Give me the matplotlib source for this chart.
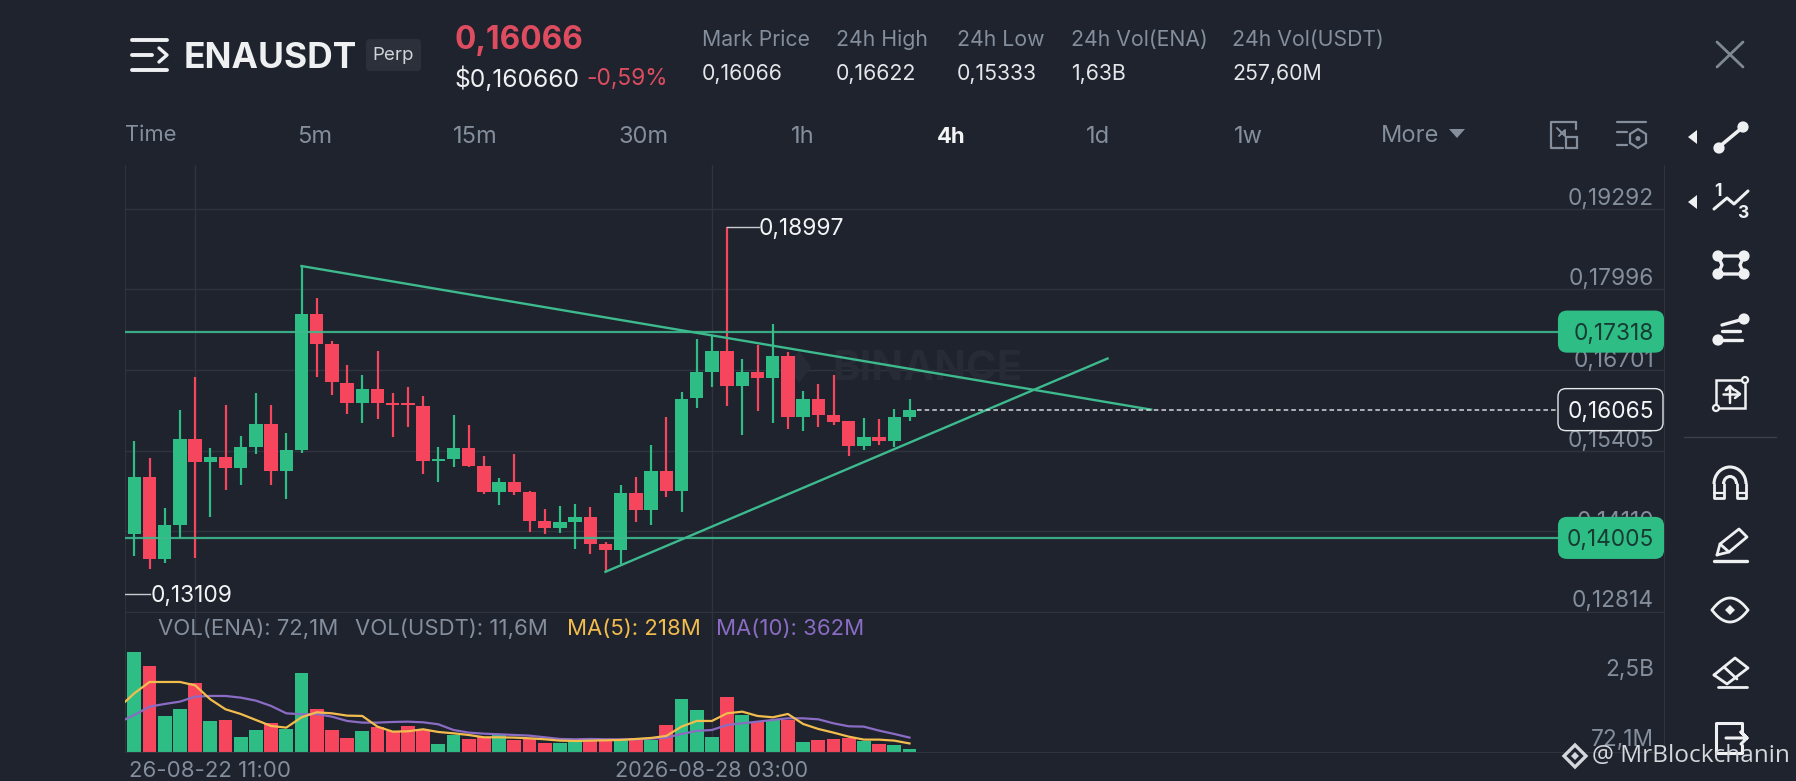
import numpy as np
import matplotlib
matplotlib.use("Agg")
import matplotlib.pyplot as plt
from matplotlib.patches import FancyBboxPatch, Polygon, Rectangle, Circle, Arc

W = 1796
H = 781

opens = [.14061,.14982,.13670,.14216,.15598,.15223,.15303,.15126,.15458,.15833,.15083,.15421,.17606,
         .17113,.16497,.16165,.16401,.16165,.16165,.16128,.15239,.15266,.15448,.15153,.14741,.14907,
         .14746,.14270,.14162,.14264,.14339,.13911,.13804,.14725,.14446,.15078,.14757,.16245,.16674,
         .17006,.16438,.16663,.16577,.16926,.15940,.16235,.15972,.15881,.15485,.15630,.15560,.15951]
highs = [.15565,.15287,.14478,.16063,.16583,.15448,.16144,.15640,.16326,.16144,.15689,.18371,.17852,
         .17172,.16776,.16615,.17006,.16326,.16433,.16283,.15469,.15972,.15817,.15319,.14960,.15346,
         .14762,.14462,.14516,.14543,.14500,.13943,.14853,.14976,.15491,.15940,.16347,.17193,.17247,
         .18997,.16872,.17102,.17440,.16985,.16358,.16470,.16615,.15881,.15935,.15913,.16074,.16240]
lows = [.13713,.13498,.13606,.13996,.13680,.14344,.14773,.14853,.15351,.14848,.14634,.15362,.16588,
        .16299,.15994,.15844,.15908,.15630,.15790,.15030,.14907,.15142,.15148,.14709,.14532,.14698,
        .14093,.14066,.14077,.13820,.13750,.13461,.13584,.14254,.14216,.14655,.14419,.16096,.16433,
        .16128,.15651,.16047,.15844,.15747,.15715,.15790,.15812,.15324,.15421,.15491,.15469,.15876]
closes = [.14982,.13670,.14211,.15598,.15223,.15303,.15126,.15458,.15833,.15083,.15415,.17606,.17124,
          .16503,.16165,.16401,.16165,.16133,.16133,.15244,.15271,.15448,.15153,.14741,.14907,.14741,
          .14275,.14162,.14259,.14339,.13911,.13804,.14725,.14446,.15078,.14757,.16235,.16663,.17001,
          .16438,.16663,.16577,.16920,.15940,.16235,.15978,.15871,.15485,.15630,.15560,.15946,.16065]
volumes = [2460,2132,902,1074,1697,763,787,369,541,713,566,1943,1058,549,353,525,615,533,640,541,213,426,
           328,369,451,312,344,221,221,303,279,287,312,344,312,672,1304,1033,377,1353,918,754,795,795,246,
           303,320,353,287,213,189,72]
# first point sits one candle left of the visible window
ma5 = [1107,1451,1730,1730,1730,1648,1304,1058,943,795,648,607,861,984,959,902,894,631,508,517,566,500,467,
       426,369,369,361,344,320,287,279,287,295,303,328,353,402,631,771,771,959,1000,894,861,943,697,574,484,
       385,312,312,287,218]
ma10 = [738,918,1123,1189,1246,1369,1386,1386,1345,1271,1140,959,935,943,877,771,730,730,746,754,738,689,549,
        484,459,443,426,410,369,328,320,328,320,320,320,336,361,451,525,549,672,713,754,795,836,836,812,713,
        640,631,533,451,362]

price_ticks = [0.19292, 0.17996, 0.16701, 0.15405, 0.14110, 0.12814]
price_labels = ["0,19292", "0,17996", "0,16701", "0,15405", "0,14110", "0,12814"]
levels = [0.17318, 0.14005]
level_labels = ["0,17318", "0,14005"]
last_price = 0.16065
high_mark = 0.18997
low_mark = 0.13109
date_ticks = [4, 38]

tabs = ["5m", "15m", "30m", "1h", "4h", "1d", "1w"]
tab_x = [315, 475, 644, 803, 951, 1098, 1248]
stat_names = ["Mark Price", "24h High", "24h Low", "24h Vol(ENA)", "24h Vol(USDT)"]
stat_values = ["0,16066", "0,16622", "0,15333", "1,63B", "257,60M"]
stat_x = [702, 836, 957, 1071, 1232]

BG = "#1e232d"
GRID = "#2e333d"
GREEN = "#2ebd85"
RED = "#f6465d"
LINE = "#3dba8e"
GRAY = "#848e9c"
ICON = "#eef0f2"
MARK = "#262b36"

LEFT = 125.3
RIGHT = 1664.3
TOP = 165
MID = 612.3
BOTTOM = 752.3
BOX_X = 1558
PRICE_PER_PX = 0.0001606


def x_idx(px):
    return (px - 134.3) / 15.2


def y_price(px):
    return 0.19292 - (px - 208.7) * PRICE_PER_PX


def y_px(price):
    return 208.7 + (0.19292 - price) / PRICE_PER_PX


def make_axes(fig, top, bottom):
    ax = fig.add_axes([LEFT / W, 1 - bottom / H, (RIGHT - LEFT) / W, (bottom - top) / H])
    ax.set_facecolor("none")
    ax.set_xlim(x_idx(LEFT), x_idx(RIGHT))
    ax.set_xticks(date_ticks)
    ax.tick_params(length=0, labelbottom=False, labelleft=False)
    ax.grid(True, color=GRID, lw=1)
    ax.set_axisbelow(True)
    for s in ax.spines.values():
        s.set_color(GRID)
    return ax


def draw_price(ax):
    ax.spines["top"].set_visible(False)
    ax.set_ylim(y_price(MID), y_price(TOP))
    ax.set_yticks(price_ticks)
    x = np.arange(len(opens))
    o = np.array(opens)
    c = np.array(closes)
    colors = [GREEN if closes[i] > opens[i] else RED for i in x]

    # faint exchange mark, sits under the candles
    ax.text(x_idx(832), y_price(369), "BINANCE", color=MARK, fontsize=30, weight="bold", va="center", zorder=1)
    ax.add_patch(Polygon([[x_idx(799), y_price(351)], [x_idx(811), y_price(367)],
                          [x_idx(799), y_price(383)], [x_idx(787), y_price(367)]], fc=MARK, zorder=1))

    ax.vlines(x, lows, highs, colors=colors, lw=1.6, zorder=3)
    ax.bar(x, np.abs(c - o), bottom=np.minimum(o, c), width=0.87, color=colors, zorder=3)

    # trend lines
    ax.plot([11, 66.9], [highs[11], last_price], color=LINE, lw=1.7, zorder=4)
    ax.plot([31, 64.03], [lows[31], 0.16886], color=LINE, lw=1.7, zorder=4)
    for lv in levels:
        ax.hlines(lv, x_idx(LEFT), x_idx(BOX_X), color=LINE, lw=1.6, zorder=4, alpha=0.9)
    ax.hlines(last_price, 51.5, x_idx(BOX_X), color="#d5d8dc", lw=1.1, linestyle=(0, (3, 2)), zorder=4)

    # high and low markers
    ax.plot([39, 39, x_idx(759)], [highs[39], high_mark, high_mark], color="#c8ccd2", lw=1, zorder=4)
    ax.plot([x_idx(LEFT), x_idx(150)], [low_mark, low_mark], color="#c8ccd2", lw=1, zorder=4)
    nudge = 2 * PRICE_PER_PX
    ax.text(x_idx(759), high_mark - nudge, "0,18997", color="#f2f3f5", fontsize=16.4, va="center", zorder=5)
    ax.text(x_idx(151), low_mark - nudge, "0,13109", color="#f2f3f5", fontsize=16.4, va="center", zorder=5)


def draw_volume(ax):
    ax.set_ylim(0, 420 * 8.2)
    ax.set_yticks([])
    x = np.arange(len(volumes))
    colors = [GREEN if closes[i] > opens[i] else RED for i in x]
    ax.bar(x, volumes, width=0.9, color=colors, zorder=2)
    ax.plot(np.arange(-1, len(ma10) - 1), ma10, color="#8a6cc4", lw=1.6, zorder=3)
    ax.plot(np.arange(-1, len(ma5) - 1), ma5, color="#f3bd4e", lw=1.6, zorder=4)


def seg(ov, xs, ys, lw=2.4, color=ICON):
    ov.plot(xs, ys, color=color, lw=lw, solid_capstyle="round", solid_joinstyle="round")


def dot(ov, x, y, r=4.5, fill=True):
    ov.add_patch(Circle((x, y), r, fc=ICON if fill else BG, ec=ICON, lw=1.6, zorder=6))


def draw_toolbar(ov):
    for y in [137, 202]:
        ov.add_patch(Polygon([[1688, y], [1697, y - 7], [1697, y + 7]], fc=ICON))
    seg(ov, [1719, 1743], [147, 127], lw=2.6)
    dot(ov, 1719, 148)
    dot(ov, 1743, 127)

    seg(ov, [1714, 1727, 1734, 1748], [209, 198, 204, 191], lw=2.2)
    ov.text(1718, 191, "1", color=ICON, fontsize=12.5, weight="bold", ha="center", va="center")
    ov.text(1743, 213, "3", color=ICON, fontsize=12.5, weight="bold", ha="center", va="center")

    seg(ov, [1718, 1744, 1740, 1744, 1718, 1722, 1718], [256, 256, 265, 274, 274, 265, 256])
    for cx in [1718, 1744]:
        for cy in [256, 274]:
            dot(ov, cx, cy)

    seg(ov, [1722, 1740], [325, 320])
    seg(ov, [1722, 1740], [331, 331])
    seg(ov, [1720, 1742], [340, 340])
    dot(ov, 1744, 319)
    dot(ov, 1718, 340)

    ov.add_patch(Rectangle((1716, 380), 29, 28, fc="none", ec=ICON, lw=1.8))
    dot(ov, 1745, 380, 3, False)
    dot(ov, 1716, 408, 3, False)
    seg(ov, [1723, 1739], [394, 394], lw=1.8)
    seg(ov, [1730, 1730, 1726, 1730, 1734], [403, 386, 390, 386, 390], lw=1.8)
    seg(ov, [1735, 1740, 1735], [390, 394, 398], lw=1.8)

    ov.plot([1684, 1776], [437, 437], color="#3a3f49", lw=1)

    ov.add_patch(Arc((1730, 484), 32, 34, theta1=180, theta2=360, ec=ICON, lw=2.2))
    ov.add_patch(Arc((1730, 484), 13, 15, theta1=180, theta2=360, ec=ICON, lw=2.2))
    seg(ov, [1714, 1714, 1723.5, 1723.5], [484, 498, 498, 484], lw=2)
    seg(ov, [1746, 1746, 1736.5, 1736.5], [484, 498, 498, 484], lw=2)
    seg(ov, [1714, 1723], [493, 493], lw=1.6)
    seg(ov, [1737, 1746], [493, 493], lw=1.6)

    seg(ov, [1714, 1747], [561, 561])
    seg(ov, [1717, 1720, 1739, 1747, 1729, 1717], [555, 544, 529, 537, 552, 555], lw=2)
    seg(ov, [1720, 1729], [544, 552], lw=2)

    # eye outline comes to a point at both ends
    t = np.linspace(-1, 1, 30)
    lx = 1730 + 18 * t
    seg(ov, lx, 610 - 12 * (1 - t ** 2), lw=2)
    seg(ov, lx, 610 + 12 * (1 - t ** 2), lw=2)
    ov.add_patch(Polygon([[1730, 605], [1735, 610], [1730, 615], [1725, 610]], fc=ICON))

    seg(ov, [1714, 1735, 1748, 1727, 1714], [675, 658, 668, 684, 675], lw=2)
    seg(ov, [1724, 1737], [667, 679], lw=2)
    seg(ov, [1718, 1747], [687, 687], lw=2)

    seg(ov, [1742, 1742, 1716, 1716, 1742, 1742], [731, 723, 723, 753, 753, 745], lw=2.2)
    seg(ov, [1726, 1747, 1741, 1747, 1741], [738, 738, 732, 738, 744], lw=2.2)


def draw_header(ov):
    seg(ov, [132, 167], [40, 40], lw=2.8)
    seg(ov, [132, 152], [55, 55], lw=2.8)
    seg(ov, [132, 167], [70, 70], lw=2.8)
    seg(ov, [159, 167, 159], [48, 55, 62], lw=2.4)
    ov.text(184, 58, "ENAUSDT", color="#eef0f2", fontsize=25.5, weight="bold", va="center")
    ov.add_patch(FancyBboxPatch((366, 39), 55, 32, boxstyle="round,pad=0,rounding_size=4", fc="#2b303a", ec="none"))
    ov.text(393, 56, "Perp", color="#d0d3d8", fontsize=13.5, ha="center", va="center")
    ov.text(454, 41, "0,16066", color="#de4c60", fontsize=22.8, weight="bold", va="center")
    ov.text(454, 79, "$0,160660", color="#eef0f2", fontsize=17.7, va="center")
    ov.text(586, 79, "-0,59%", color="#de4c60", fontsize=16.4, va="center")
    for name, val, x in zip(stat_names, stat_values, stat_x):
        ov.text(x, 40, name, color=GRAY, fontsize=15.3, va="center")
        ov.text(x, 74, val, color="#e4e6e9", fontsize=15.3, va="center")
    seg(ov, [1717, 1743], [42, 67], lw=2, color="#7f8893")
    seg(ov, [1717, 1743], [67, 42], lw=2, color="#7f8893")

    ov.text(125, 135, "Time", color=GRAY, fontsize=15.8, va="center")
    for t, x in zip(tabs, tab_x):
        on = t == "4h"
        ov.text(x, 137, t, color="#f2f3f5" if on else GRAY, fontsize=15.8 if on else 17, ha="center", va="center",
                weight="bold" if on else "normal")
    ov.text(1410, 136, "More", color=GRAY, fontsize=17, ha="center", va="center")
    ov.add_patch(Polygon([[1449, 129], [1465, 129], [1457, 138]], fc=GRAY))

    # screen and settings icons next to the tabs
    seg(ov, [1576, 1576], [129, 122], lw=1.6, color=GRAY)
    seg(ov, [1576, 1551, 1551, 1563], [122, 122, 148, 148], lw=1.6, color=GRAY)
    ov.add_patch(Rectangle((1566, 137), 11, 11, fc="none", ec=GRAY, lw=1.6))
    seg(ov, [1557, 1565, 1565, 1559], [128, 136, 130, 136], lw=1.4, color=GRAY)
    seg(ov, [1617, 1646], [122, 122], lw=1.6, color=GRAY)
    seg(ov, [1617, 1627], [132, 132], lw=1.6, color=GRAY)
    seg(ov, [1617, 1627], [145, 145], lw=1.6, color=GRAY)
    ov.add_patch(Polygon([[1638, 129], [1646, 134], [1646, 143], [1638, 148], [1630, 143], [1630, 134]],
                         fc="none", ec=GRAY, lw=1.6))
    ov.add_patch(Circle((1638, 138.5), 2.5, fc=GRAY))


def draw_labels(ov):
    label_y = [199, 279, 361, 441, 522, 601]
    for lab, y in zip(price_labels, label_y):
        ov.text(1654, y, lab, color=GRAY, fontsize=16.3, ha="right", va="center")
    ov.text(1654, 670, "2,5B", color=GRAY, fontsize=16.3, ha="right", va="center")
    ov.text(1654, 740, "72,1M", color=GRAY, fontsize=16.3, ha="right", va="center")

    for lv, lab in zip(levels, level_labels):
        cy = y_px(lv)
        ov.add_patch(FancyBboxPatch((BOX_X + 1, cy - 20), 104, 40, boxstyle="round,pad=0,rounding_size=8",
                                    fc=GREEN, ec=GREEN, lw=1.5, zorder=5))
        ov.text(1654, cy + 2, lab, color="#173b33", fontsize=16.3, ha="right", va="center", zorder=6)
    cy = y_px(last_price)
    ov.add_patch(FancyBboxPatch((BOX_X, cy - 21), 105, 42, boxstyle="round,pad=0,rounding_size=8",
                                fc=BG, ec="#e4e6e9", lw=1, zorder=5))
    ov.text(1654, cy + 2, "0,16065", color="#f5f6f7", fontsize=16.3, ha="right", va="center", zorder=6)

    ov.text(158, 629, "VOL(ENA): 72,1M", color=GRAY, fontsize=15.9, va="center")
    ov.text(355, 629, "VOL(USDT): 11,6M", color=GRAY, fontsize=15.9, va="center")
    ov.text(567, 629, "MA(5): 218M", color="#f3bd4e", fontsize=15.9, va="center")
    ov.text(716, 629, "MA(10): 362M", color="#8a6cc4", fontsize=15.9, va="center")
    ov.text(291, 771, "26-08-22 11:00", color=GRAY, fontsize=16, ha="right", va="center")
    ov.text(712, 771, "2026-08-28 03:00", color=GRAY, fontsize=15.6, ha="center", va="center")

    # author watermark
    ov.text(1592, 756, "@ MrBlockchanin", color="#d4d7db", fontsize=17.6, va="center", zorder=7,
            family=["Open Sans", "DejaVu Sans"])
    ov.add_patch(Polygon([[1575, 745], [1586, 756], [1575, 767], [1564, 756]], fc="none", ec="#d4d7db", lw=2.4, zorder=7))
    ov.add_patch(Polygon([[1575, 752], [1579, 756], [1575, 760], [1571, 756]], fc="#d4d7db", zorder=7))


def main():
    plt.rcParams["font.family"] = ["Inter", "DejaVu Sans"]
    fig = plt.figure(figsize=(W / 100, H / 100), dpi=100, facecolor=BG)

    ax_price = make_axes(fig, TOP, MID)
    ax_vol = make_axes(fig, MID, BOTTOM)
    draw_price(ax_price)
    draw_volume(ax_vol)

    ov = fig.add_axes([0, 0, 1, 1], zorder=10)
    ov.set_xlim(0, W)
    ov.set_ylim(H, 0)
    ov.patch.set_alpha(0)
    ov.axis("off")
    draw_header(ov)
    draw_toolbar(ov)
    draw_labels(ov)

    fig.savefig("out.png", dpi=100, facecolor=BG)


if __name__ == "__main__":
    main()
